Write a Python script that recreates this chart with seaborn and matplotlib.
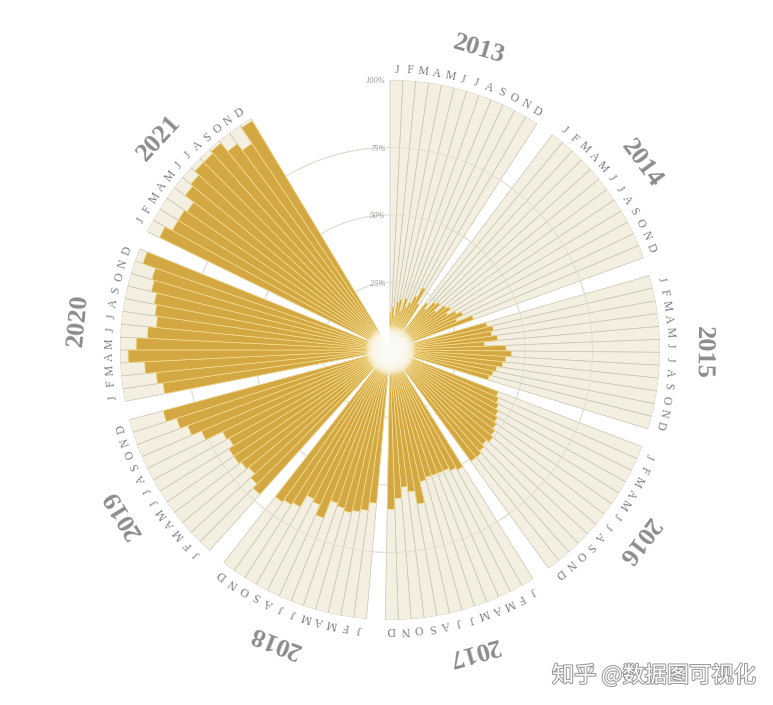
import numpy as np
import pandas as pd
import matplotlib.pyplot as plt
import matplotlib.patheffects as pe
import seaborn as sns

# ---------------- DATA ----------------

YEARS = [2013, 2014, 2015, 2016, 2017, 2018, 2019, 2020, 2021]
MONTHS = ["J", "F", "M", "A", "M", "J", "J", "A", "S", "O", "N", "D"]

share_2013 = [14, 16, 13, 18, 19, 15, 20, 17, 19, 22, 26, 20]
share_2014 = [22, 20, 24, 25, 22, 26, 27, 25, 28, 30, 27, 33]
share_2015 = [37, 39, 38, 40, 35, 43, 45, 43, 42, 40, 39, 38]
share_2016 = [43, 44, 45, 46, 47, 48, 49, 50, 49, 50, 51, 51]
share_2017 = [51, 50, 49, 49, 49, 49, 50, 58, 53, 51, 55, 59]
share_2018 = [57, 60, 61, 62, 61, 60, 67, 63, 62, 67, 68, 69]
share_2019 = [72, 70, 68, 69, 70, 70, 68, 69, 76, 80, 83, 87]
share_2020 = [85, 87, 91, 97, 94, 90, 87, 88, 89, 91, 92, 97]
share_2021 = [95, 92, 92, 91, 95, 96, 98, 98, 99, 95, 92, 99]

GRID_LEVELS = [25, 50, 75, 100]

all_shares = [share_2013, share_2014, share_2015, share_2016, share_2017,
              share_2018, share_2019, share_2020, share_2021]

rows = []
for k, (year, vals) in enumerate(zip(YEARS, all_shares)):
    for m, v in enumerate(vals):
        rows.append({"year": year, "k": k, "m": m, "month": MONTHS[m], "value": v})
df = pd.DataFrame(rows)

# ---------------- LAYOUT ----------------

YEAR_SPAN = 33.0   # degrees per year
YEAR_STEP = 37.0   # span + gap
MONTH_W = YEAR_SPAN / 12

df["theta"] = np.deg2rad(df["k"] * YEAR_STEP + MONTH_W * (df["m"] + 0.5))

GOLD = "#d3a741"
CREAM = "#f3f0e2"

sns.set_theme(style="white")
plt.rcParams["font.family"] = ["Liberation Serif", "Noto Sans CJK SC"]

fig = plt.figure(figsize=(7.73, 7.05), dpi=100)
ax = fig.add_axes([0.1552, 0.1206, 0.6986, 0.766], projection="polar")
ax.set_theta_zero_location("N")
ax.set_theta_direction(-1)
ax.set_ylim(0, 100)
ax.axis("off")

# grid circles
circ = np.linspace(0, 2 * np.pi, 500)
for lvl in GRID_LEVELS[:-1]:
    ax.plot(circ, [lvl] * len(circ), color="#e6e6e6", lw=0.8, zorder=0)

# background (100%) bars
ax.bar(df["theta"], 100, width=np.deg2rad(MONTH_W), color=CREAM,
       edgecolor="#c9c4b1", linewidth=0.5, zorder=1)
for lvl in GRID_LEVELS[:-1]:
    ax.plot(circ, [lvl] * len(circ), color="#e0dccd", lw=0.6, zorder=2)

# value bars
ax.bar(df["theta"], df["value"], width=np.deg2rad(MONTH_W), color=GOLD,
       edgecolor="#f6df92", linewidth=0.5, zorder=3)

# center glow
for s in np.linspace(20, 1300, 14):
    ax.scatter([0], [0], s=s, color="white", alpha=0.2, lw=0, zorder=5)

# month labels
for _, r in df.iterrows():
    deg = np.rad2deg(r["theta"])
    ax.text(r["theta"], 103.8, r["month"], rotation=-deg, rotation_mode="anchor",
            ha="center", va="center", fontsize=8.5, color="#7d7d7d", zorder=6)

# year labels
for k, year in enumerate(YEARS):
    mid = k * YEAR_STEP + YEAR_SPAN / 2
    ax.text(np.deg2rad(mid), 116, str(year), rotation=-mid, rotation_mode="anchor",
            ha="center", va="center", fontsize=19, fontweight="bold",
            color="#8c8c8c", zorder=6)

# percent labels
for lvl in GRID_LEVELS:
    ax.annotate(f"{lvl}%", xy=(0, lvl), xytext=(-3, -1), textcoords="offset points",
                ha="right", va="center", fontsize=6, style="italic",
                color="#9a9a9a", zorder=6)

# watermark
fig.text(0.978, 0.042, "知乎 @数据图可视化", ha="right", va="center", fontsize=16,
         color="white", family=["Noto Sans CJK SC", "DejaVu Sans"],
         path_effects=[pe.withStroke(linewidth=1.5, foreground="#9a9a9a")])

fig.savefig("out.png", dpi=100, facecolor="white")
